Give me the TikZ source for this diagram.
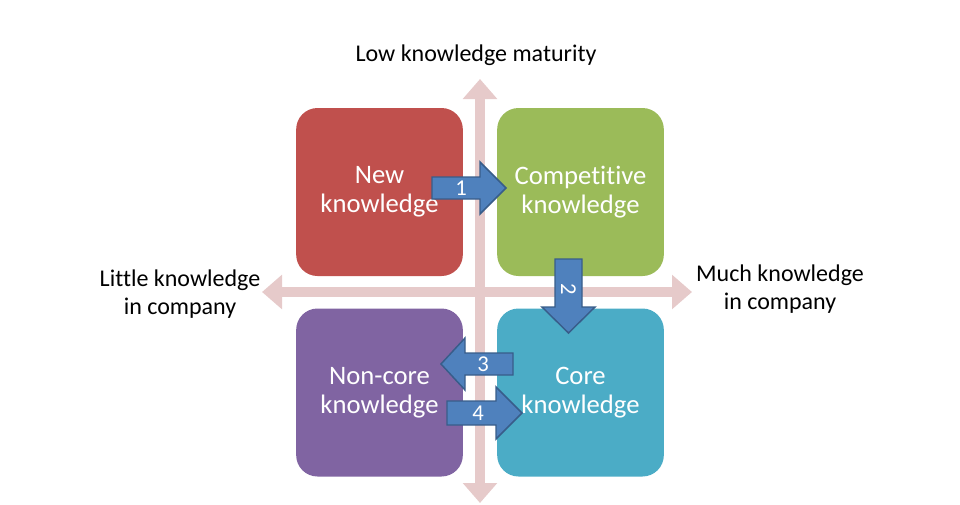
\documentclass[tikz,border=0pt]{standalone}
\usepackage{fontspec}
\setmainfont{Carlito}[Ligatures=NoCommon]
\usetikzlibrary{arrows.meta}
\definecolor{boxred}{HTML}{C0504D}
\definecolor{boxgreen}{HTML}{9BBB59}
\definecolor{boxpurple}{HTML}{8064A2}
\definecolor{boxteal}{HTML}{4BACC6}
\definecolor{axispink}{RGB}{230,202,202}
\definecolor{arrowblue}{HTML}{4F81BD}
\definecolor{arrowedge}{HTML}{385D8A}
\tikzset{
    quad/.style={rounded corners=16pt, minimum width=125pt, minimum height=126pt, text=white, align=center, font=\fontsize{20}{22}\selectfont},
    axis/.style={draw=axispink, line width=7pt, {Triangle[width=25pt,length=15pt]}-{Triangle[width=25pt,length=15pt]}},
    blockarrow/.style={fill=arrowblue, draw=arrowedge, line width=1.1pt, line join=miter},
    num/.style={text=white, font=\fontsize{17}{17}\selectfont, inner sep=0pt},
    axislabel/.style={align=center, font=\fontsize{18}{21}\selectfont},
}
\begin{document}
\begin{tikzpicture}[x=0.75pt, y=-0.75pt]
        \useasboundingbox (0,0) rectangle (960,504);

        \coordinate (top) at (480,79);
        \coordinate (bottom) at (480,503);
        \coordinate (left) at (262,292);
        \coordinate (right) at (692,292);

        \draw[axis] (bottom) -- (top);
        \draw[axis] (left) -- (right);

        \node[quad, fill=boxred] (new) at (379.5,192) {New\\knowledge};
        \node[quad, fill=boxgreen] (comp) at (580.5,192) {Competitive\\knowledge};
        \node[quad, fill=boxpurple] (noncore) at (379.5,392.5) {Non-core\\knowledge};
        \node[quad, fill=boxteal] (core) at (580.5,392.5) {Core\\knowledge};

        \node[axislabel] (low) at (476,55) {Low knowledge maturity};
        \node[axislabel] (little) at (180,294) {Little knowledge\\in company};
        \node[axislabel] (much) at (780,289) {Much knowledge\\in company};

        % numbered steps
        \draw[blockarrow] (432,177) -- (480,177) -- (480,162) -- (506,188) -- (480,214) -- (480,199) -- (432,199) -- cycle;
        \draw[blockarrow] (555,259) -- (582,259) -- (582,307) -- (595,307) -- (568.5,333) -- (542,307) -- (555,307) -- cycle;
        \draw[blockarrow] (513,353) -- (465,353) -- (465,338) -- (441,364) -- (465,390) -- (465,375) -- (513,375) -- cycle;
        \draw[blockarrow] (447,401) -- (496,401) -- (496,387) -- (522,413) -- (496,439) -- (496,425) -- (447,425) -- cycle;

        \node[num] (n1) at (461,188) {1};
        \node[num, rotate=-90] (n2) at (568.5,289) {2};
        \node[num] (n3) at (483,364) {3};
        \node[num] (n4) at (478,413) {4};

    \end{tikzpicture}
\end{document}
